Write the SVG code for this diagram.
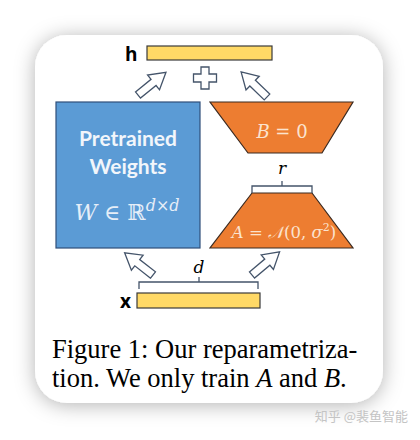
<svg xmlns="http://www.w3.org/2000/svg" width="420" height="440" viewBox="0 0 420 440">
<defs>
<filter id="sh" x="-20%" y="-20%" width="140%" height="140%">
<feDropShadow dx="0" dy="2" stdDeviation="10" flood-color="#000" flood-opacity="0.3"/>
</filter>
<path id="arr" d="M0,-4 L20,-4 L20,-9.5 L36,0 L20,9.5 L20,4 L0,4 Z"/>
</defs>
<style>
.bar{fill:#FFD966;stroke:#3a3a3a;stroke-width:1.2}
.blk{fill:#fff;stroke:#44546A;stroke-width:1.3;stroke-linejoin:miter}
.orng{fill:#ED7D31;stroke:#3b2a20;stroke-width:1.2}
.brace{fill:none;stroke:#44546A;stroke-width:1.3}
.lbl{font-family:"Open Sans","Liberation Sans",sans-serif;font-size:19px;font-weight:bold;fill:#000}
.wt{font-family:Lato,"Open Sans",sans-serif;font-size:21px;font-weight:bold;fill:#F2F6FB;text-anchor:middle}
.math{font-family:"DejaVu Serif","Liberation Serif",serif;font-style:italic;text-anchor:middle}
.cap{font-family:"Liberation Serif","Times New Roman",serif;font-size:26.5px;fill:#000}
</style>
<rect x="0" y="0" width="420" height="440" fill="#fff"/>
<rect x="35" y="35" width="348" height="368" rx="32" ry="32" fill="#fff" filter="url(#sh)"/>

<g id="h">
<rect class="bar" x="147" y="46" width="125" height="14"/>
<text class="lbl" x="125" y="61">h</text>
</g>

<g id="weights">
<rect x="56" y="102" width="144" height="146" fill="#5B9BD5" stroke="#2F4F7A" stroke-width="1.2"/>
<text class="wt" x="128" y="146">Pretrained</text>
<text class="wt" x="128" y="174">Weights</text>
<text x="127" y="220" text-anchor="middle" fill="#E6EEF8" font-size="22" font-family="DejaVu Serif,serif"><tspan font-style="italic">W</tspan> ∈ ℝ<tspan font-style="italic" font-size="16" dy="-9">d×d</tspan></text>
</g>

<g id="B">
<polygon class="orng" points="210,102 353,102 322,153 248,153"/>
<text class="math" x="282" y="138" font-size="18" fill="#FBE3CF">B <tspan font-style="normal">= 0</tspan></text>
</g>

<g id="A">
<polygon class="orng" points="252,193 312,193 353,248 210,248"/>
<text class="math" x="284" y="238" font-size="16.5" fill="#FBE3CF">A <tspan font-style="normal">=</tspan> 𝒩<tspan font-style="normal">(0,</tspan> σ<tspan font-style="normal" font-size="11" dy="-7">2</tspan><tspan font-style="normal" dy="7">)</tspan></text>
</g>

<g id="r-brace">
<path class="brace" d="M252,193 L252,186 L312,186 L312,193 M282,186 L282,181"/>
<text class="math" x="282" y="174" font-size="17" fill="#000">r</text>
</g>

<g id="d-brace">
<path class="brace" d="M139,289 L139,282 L258,282 L258,289 M199,282 L199,277"/>
<text class="math" x="199" y="273" font-size="17" fill="#000">d</text>
</g>

<g id="x">
<rect class="bar" x="137" y="293" width="123" height="15"/>
<text class="lbl" x="120" y="308">x</text>
</g>

<g id="connectors">
<use href="#arr" class="blk" transform="translate(138,95) rotate(-39)"/>
<use href="#arr" class="blk" transform="translate(267,97) rotate(-136)"/>
<use href="#arr" class="blk" transform="translate(153,275) rotate(-142)"/>
<use href="#arr" class="blk" transform="translate(252,275) rotate(-40)"/>
<path class="blk" d="M201,67 L209,67 L209,74 L216.5,74 L216.5,82 L209,82 L209,89 L201,89 L201,82 L193.5,82 L193.5,74 L201,74 Z"/>
</g>

<g id="caption">
<text class="cap" x="52" y="358">Figure 1: Our reparametriza-</text>
<text class="cap" x="52" y="387">tion. We only train <tspan font-style="italic">A</tspan> and <tspan font-style="italic">B</tspan>.</text>
</g>

<text x="408" y="421" text-anchor="end" font-family="'Noto Sans CJK SC',sans-serif" font-size="13" fill="#c4c4c4">知乎 @裴鱼智能</text>
</svg>
